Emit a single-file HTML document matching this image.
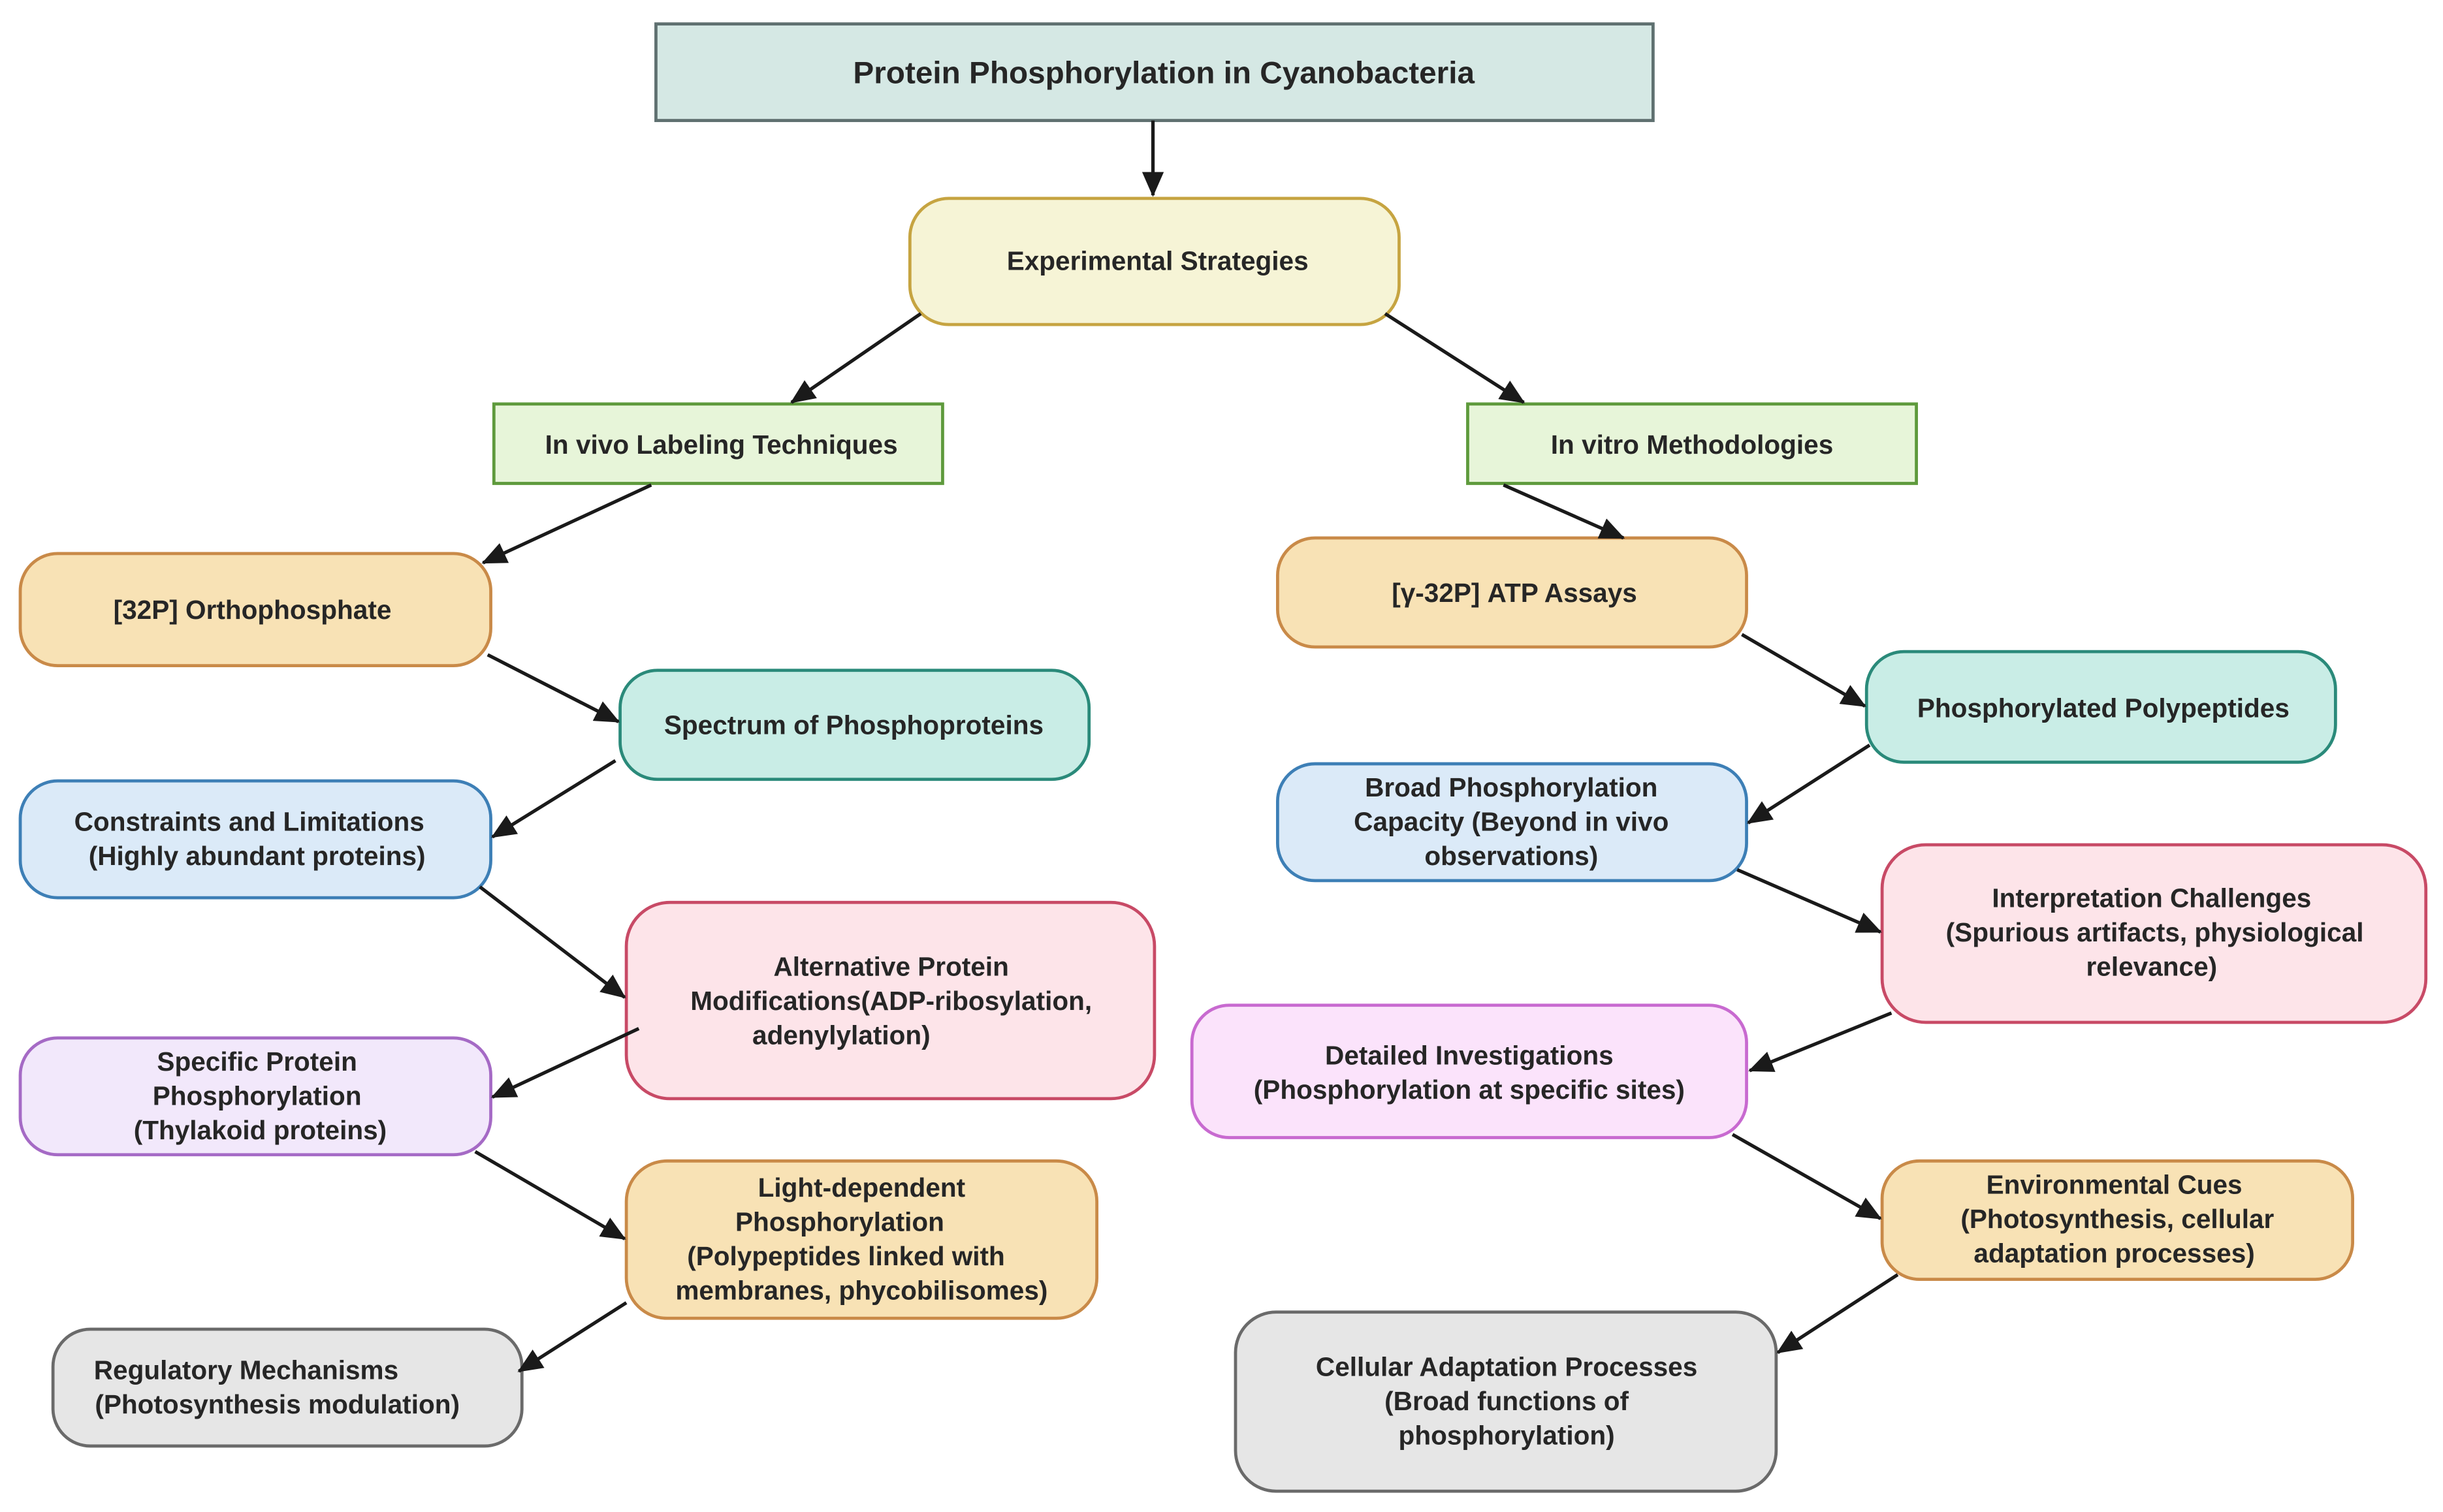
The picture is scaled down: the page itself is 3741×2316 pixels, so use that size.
<!DOCTYPE html>
<html><head><meta charset="utf-8"><style>
html,body{margin:0;padding:0;background:#fff;}
svg{display:block;}
text{font-family:"Liberation Sans",Arial,sans-serif;font-weight:bold;fill:#262626;text-anchor:middle;}
</style></head><body>
<svg width="3741" height="2316" viewBox="0 0 1568 970" xmlns="http://www.w3.org/2000/svg">
<defs><marker id="a" markerWidth="10" markerHeight="10" refX="9" refY="5" orient="auto" markerUnits="userSpaceOnUse" viewBox="0 0 10 10"><path d="M0,0 L10,5 L0,10 z" fill="#1a1a1a" transform="scale(1)"/></marker>
<marker id="b" markerWidth="16" markerHeight="14" refX="15" refY="7" orient="auto" markerUnits="userSpaceOnUse"><path d="M0,0 L16,7 L0,14 z" fill="#1a1a1a"/></marker></defs>
<g stroke-width="2">
<rect x="421" y="15" width="640" height="62" fill="#d5e8e4" stroke="#5f7070"/>
<rect x="584" y="127" width="314" height="81" rx="25" fill="#f6f4d6" stroke="#c6a441"/>
<rect x="317" y="259" width="288" height="51" fill="#e7f5d9" stroke="#5e9a3c"/>
<rect x="942" y="259" width="288" height="51" fill="#e7f5d9" stroke="#5e9a3c"/>
<rect x="13" y="355" width="302" height="72" rx="24" fill="#f8e2b5" stroke="#c98a48"/>
<rect x="820" y="345" width="301" height="70" rx="24" fill="#f8e2b5" stroke="#c98a48"/>
<rect x="398" y="430" width="301" height="70" rx="24" fill="#c9ede6" stroke="#2a8a7a"/>
<rect x="1198" y="418" width="301" height="71" rx="24" fill="#c9ede6" stroke="#2a8a7a"/>
<rect x="13" y="501" width="302" height="75" rx="24" fill="#dbeaf8" stroke="#3d7fb6"/>
<rect x="820" y="490" width="301" height="75" rx="24" fill="#dbeaf8" stroke="#3d7fb6"/>
<rect x="402" y="579" width="339" height="126" rx="28" fill="#fde4e9" stroke="#c84a66"/>
<rect x="1208" y="542" width="349" height="114" rx="28" fill="#fde4e9" stroke="#c84a66"/>
<rect x="13" y="666" width="302" height="75" rx="24" fill="#f2e8fb" stroke="#a56ac5"/>
<rect x="765" y="645" width="356" height="85" rx="24" fill="#fbe3fb" stroke="#c86ad0"/>
<rect x="402" y="745" width="302" height="101" rx="26" fill="#f8e2b5" stroke="#c98a48"/>
<rect x="1208" y="745" width="302" height="76" rx="24" fill="#f8e2b5" stroke="#c98a48"/>
<rect x="34" y="853" width="301" height="75" rx="24" fill="#e6e6e6" stroke="#6a6a6a"/>
<rect x="793" y="842" width="347" height="115" rx="26" fill="#e6e6e6" stroke="#6a6a6a"/>
</g>
<g stroke="#1a1a1a" stroke-width="2.2" marker-end="url(#b)">
<line x1="740" y1="77" x2="740" y2="125"/>
<line x1="591" y1="201" x2="508" y2="258"/>
<line x1="889" y1="201" x2="978" y2="258"/>
<line x1="418" y1="311" x2="310" y2="361"/>
<line x1="965" y1="311" x2="1042" y2="345"/>
<line x1="313" y1="420" x2="397" y2="463"/>
<line x1="1118" y1="407" x2="1197" y2="453"/>
<line x1="395" y1="488" x2="316" y2="537"/>
<line x1="1200" y1="478" x2="1122" y2="528"/>
<line x1="308" y1="569" x2="401" y2="640"/>
<line x1="1115" y1="558" x2="1207" y2="598"/>
<line x1="410" y1="660" x2="316" y2="704"/>
<line x1="1214" y1="650" x2="1123" y2="687"/>
<line x1="305" y1="739" x2="401" y2="795"/>
<line x1="1112" y1="728" x2="1207" y2="782"/>
<line x1="402" y1="836" x2="333" y2="880"/>
<line x1="1218" y1="818" x2="1141" y2="868"/>
</g>
<g font-size="17">
<text x="747" y="53" font-size="20">Protein Phosphorylation in Cyanobacteria</text>
<text x="743" y="173">Experimental Strategies</text>
<text x="463" y="291">In vivo Labeling Techniques</text>
<text x="1086" y="291">In vitro Methodologies</text>
<text x="162" y="397">[32P] Orthophosphate</text>
<text x="972" y="386">[γ-32P] ATP Assays</text>
<text x="548" y="471">Spectrum of Phosphoproteins</text>
<text x="1350" y="460">Phosphorylated Polypeptides</text>
<text x="160" y="533">Constraints and Limitations</text>
<text x="165" y="555">(Highly abundant proteins)</text>
<text x="970" y="511">Broad Phosphorylation</text>
<text x="970" y="533">Capacity (Beyond in vivo</text>
<text x="970" y="555">observations)</text>
<text x="572" y="626">Alternative Protein</text>
<text x="572" y="648">Modifications(ADP-ribosylation,</text>
<text x="540" y="670">adenylylation)</text>
<text x="1381" y="582">Interpretation Challenges</text>
<text x="1383" y="604">(Spurious artifacts, physiological</text>
<text x="1381" y="626">relevance)</text>
<text x="165" y="687">Specific Protein</text>
<text x="165" y="709">Phosphorylation</text>
<text x="167" y="731">(Thylakoid proteins)</text>
<text x="943" y="683">Detailed Investigations</text>
<text x="943" y="705">(Phosphorylation at specific sites)</text>
<text x="553" y="768">Light-dependent</text>
<text x="539" y="790">Phosphorylation</text>
<text x="543" y="812">(Polypeptides linked with</text>
<text x="553" y="834">membranes, phycobilisomes)</text>
<text x="1357" y="766">Environmental Cues</text>
<text x="1359" y="788">(Photosynthesis, cellular</text>
<text x="1357" y="810">adaptation processes)</text>
<text x="158" y="885">Regulatory Mechanisms</text>
<text x="178" y="907">(Photosynthesis modulation)</text>
<text x="967" y="883">Cellular Adaptation Processes</text>
<text x="967" y="905">(Broad functions of</text>
<text x="967" y="927">phosphorylation)</text>
</g>
</svg>
</body></html>
